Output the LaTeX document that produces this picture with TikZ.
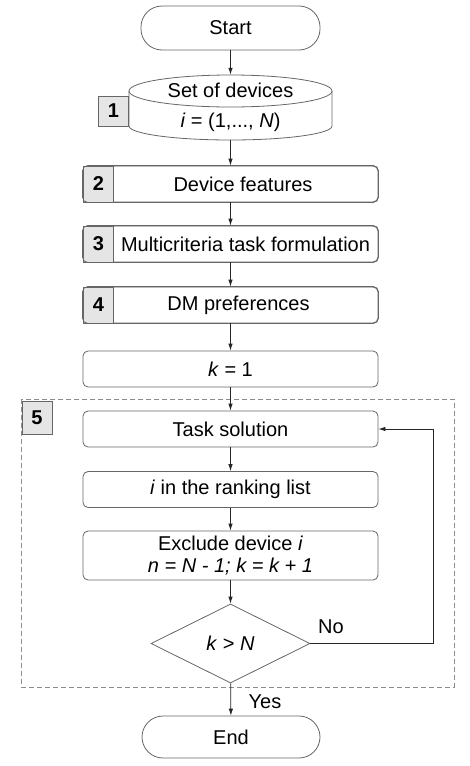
\documentclass[tikz,border=0pt]{standalone}
\usepackage{fontspec}
\setmainfont{Liberation Sans}
\usetikzlibrary{arrows.meta,shapes.geometric,calc}
\begin{document}
\begin{tikzpicture}[x=1pt,y=-1pt,
  every node/.style={font=\fontsize{20}{23}\selectfont},
  line/.style={draw=black!85, line width=0.8pt},
  arr/.style={line, -{Latex[length=7pt,width=4.5pt]}},
  term/.style={draw=black!60, line width=0.8pt, rounded corners=21pt, minimum width=179pt, minimum height=44pt, inner sep=0pt},
  proc/.style={draw=black!60, line width=0.8pt, rounded corners=5pt, minimum width=295pt, minimum height=36pt, inner sep=0pt},
  numcell/.style={fill=black!10, draw=black!60, line width=0.8pt, minimum width=30pt, inner sep=0pt, font=\bfseries\fontsize{20}{23}\selectfont},
  lbl/.style={inner sep=0pt},
]
\useasboundingbox (0,0) rectangle (470,766);
\fill[white] (0,0) rectangle (470,766);

% dashed group
\draw[draw=black!45, line width=0.8pt, dash pattern=on 5pt off 3pt] (21,399) rectangle (454,687);
\node[numcell, minimum height=33pt] (n5) at (37,417.5) {5};

% start
\node[term] (start) at (230.5,28) {Start};

% cylinder
\node[inner sep=0pt, minimum width=203pt, minimum height=65pt] (set) at (230.5,107.5) {};
\draw[draw=black!60, line width=0.8pt] (129,91) -- (129,126) arc[start angle=180, end angle=360, x radius=101.5pt, y radius=14pt] -- (332,91);
\draw[draw=black!60, line width=0.8pt] (230.5,91) ellipse [x radius=101.5pt, y radius=16pt];
\node[lbl] (settxt) at (230.5,90) {Set of devices};
\node[lbl] (settxt2) at (230.5,122) {\textit{i} = (1,..., \textit{N})};
\node[numcell, minimum height=30pt] (n1) at (113.5,111) {1};

% boxes 2-4
\node[proc] (feat) at (230.5,184) {};
\node[numcell, minimum height=36pt, rounded corners=0pt] (n2) at (98.5,184) {2};
\draw[draw=black!60, line width=0.8pt, rounded corners=5pt] (feat.south west) rectangle (feat.north east);
\node[lbl] at (243,184) {Device features};

\node[proc] (form) at (230.5,244) {};
\node[numcell, minimum height=36pt] (n3) at (98.5,244) {3};
\draw[draw=black!60, line width=0.8pt, rounded corners=5pt] (form.south west) rectangle (form.north east);
\node[lbl] at (245.5,244) {Multicriteria task formulation};

\node[proc] (pref) at (230.5,305) {};
\node[numcell, minimum height=36pt] (n4) at (98.5,305) {4};
\draw[draw=black!60, line width=0.8pt, rounded corners=5pt] (pref.south west) rectangle (pref.north east);
\node[lbl] at (238.5,305) {DM preferences};

\node[proc] (k1) at (230.5,369) {\textit{k} = 1};

% loop
\node[proc] (task) at (230.5,429) {Task solution};
\node[proc] (rank) at (230.5,489.5) {\textit{i} in the ranking list};
\node[proc, minimum height=49pt, align=center] (excl) at (230.5,555.5) {Exclude device \textit{i}\\[-1pt]\textit{n = N - 1; k = k + 1}};
\node[diamond, draw=black!60, line width=0.8pt, minimum width=159pt, minimum height=79pt, inner sep=0pt, aspect=2] (dec) at (230.5,643.5) {\textit{k} > \textit{N}};

\node[term, minimum width=178pt, minimum height=42pt] (end) at (231,737) {End};

% connectors
\draw[arr] (start) -- (set.north);
\draw[arr] (set.south) -- (feat);
\draw[arr] (feat) -- (form);
\draw[arr] (form) -- (pref);
\draw[arr] (pref) -- (k1);
\draw[arr] (k1) -- (task);
\draw[arr] (task) -- (rank);
\draw[arr] (rank) -- (excl);
\draw[arr] (excl) -- (dec);
\draw[arr] (dec) -- (end);
\node[lbl] (yes) at (265,702) {Yes};
\coordinate (fb) at (433,643.5);
\draw[arr] (dec.east) -- (fb) |- (task.east);
\node[lbl] (no) at (331,627) {No};
\end{tikzpicture}
\end{document}
